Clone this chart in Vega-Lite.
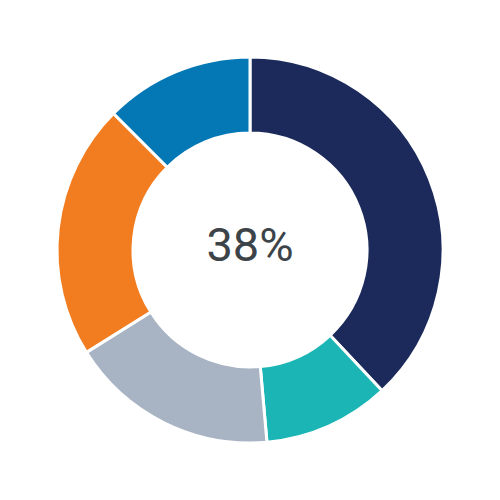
{
  "$schema": "https://vega.github.io/schema/vega-lite/v6.json",
  "width": 500,
  "height": 500,
  "autosize": {"type": "fit", "contains": "padding"},
  "padding": 0,
  "view": {"stroke": null},
  "layer": [
    {
      "data": {
        "values": [
          {"segment": "A", "share": 38, "rank": 1},
          {"segment": "B", "share": 10.6, "rank": 2},
          {"segment": "C", "share": 17.5, "rank": 3},
          {"segment": "D", "share": 21.4, "rank": 4},
          {"segment": "E", "share": 12.5, "rank": 5}
        ]
      },
      "mark": {"type": "arc", "outerRadius": 193, "innerRadius": 117, "stroke": "white", "strokeWidth": 3},
      "encoding": {
        "theta": {"field": "share", "type": "quantitative", "stack": true},
        "order": {"field": "rank", "type": "quantitative"},
        "color": {
          "field": "segment",
          "type": "nominal",
          "legend": null,
          "scale": {
            "domain": ["A", "B", "C", "D", "E"],
            "range": ["#1b2a5a", "#1bb5b6", "#a8b4c3", "#f27c20", "#0477b5"]
          }
        }
      }
    },
    {
      "data": {"values": [{"label": "38%"}]},
      "mark": {"type": "text", "font": "Roboto", "fontSize": 47, "color": "#3d4449", "baseline": "middle", "align": "center", "dy": -3},
      "encoding": {"text": {"field": "label"}}
    }
  ]
}
